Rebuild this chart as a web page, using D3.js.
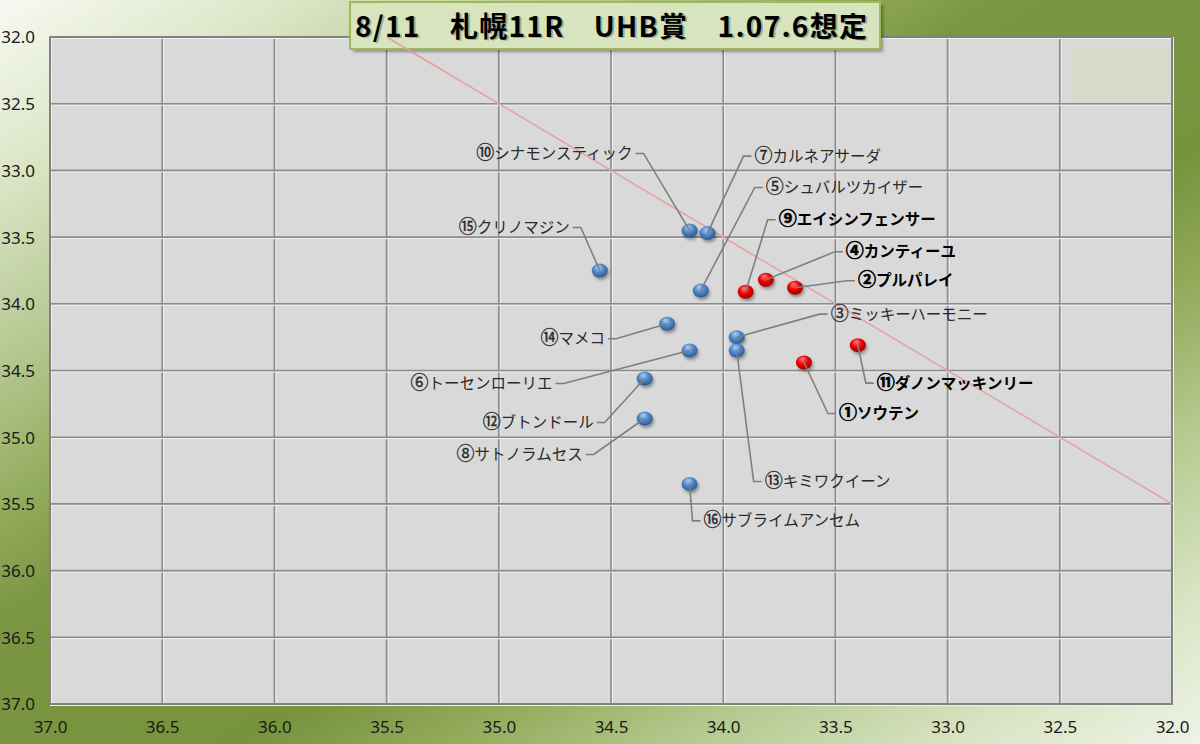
<!DOCTYPE html>
<html lang="ja">
<head>
<meta charset="utf-8">
<title>8/11 札幌11R UHB賞</title>
<style>
  html, body { margin: 0; padding: 0; background: #fff; }
  svg { display: block; }
</style>
</head>
<body>
<script src="https://cdnjs.cloudflare.com/ajax/libs/d3/7.8.5/d3.min.js"></script>
<script>
// data (x = 前半, y = 後半)
var horseNames = ["①ソウテン", "②プルパレイ", "③ミッキーハーモニー", "④カンティーユ",
  "⑤シュバルツカイザー", "⑥トーセンローリエ", "⑦カルネアサーダ", "⑧サトノラムセス",
  "⑨エイシンフェンサー", "⑩シナモンスティック", "⑪ダノンマッキンリー", "⑫ブトンドール",
  "⑬キミワクイーン", "⑭マメコ", "⑮クリノマジン", "⑯サブライムアンセム"];
var xValues = [33.64, 33.68, 33.94, 33.81, 34.10, 34.15, 34.07, 34.35,
  33.90, 34.15, 33.40, 34.35, 33.94, 34.25, 34.55, 34.15];
var yValues = [34.44, 33.88, 34.25, 33.82, 33.90, 34.35, 33.47, 34.86,
  33.91, 33.45, 34.31, 34.56, 34.35, 34.15, 33.75, 35.35];
var redHorses = [1, 2, 4, 9, 11];
var lineX = [35.5, 32.0];
var lineY = [32.0, 35.5];
var xTicks = [37.0, 36.5, 36.0, 35.5, 35.0, 34.5, 34.0, 33.5, 33.0, 32.5, 32.0];
var yTicks = [32.0, 32.5, 33.0, 33.5, 34.0, 34.5, 35.0, 35.5, 36.0, 36.5, 37.0];
var title = "8/11　札幌11R　UHB賞　1.07.6想定";

// label elbow offsets (px from the point) and side
var labelLayout = [[24, 51, "r"], [52, -7, "r"], [83, -23, "r"], [69, -28, "r"],
  [54, -103, "r"], [-126, 33, "l"], [36, -77, "r"], [-51, 36, "l"],
  [22, -72, "r"], [-46, -77, "l"], [8, 38, "r"], [-40, 44, "l"],
  [17, 131, "r"], [-51, 15, "l"], [-19, -43, "l"], [3, 37, "r"]];

var w = 1200, h = 744;
var pLeft = 50, pRight = 1172, pTop = 37, pBottom = 704;

var svg = d3.select("body").append("svg")
  .attr("width", w)
  .attr("height", h);

var defs = svg.append("defs");

var bg = defs.append("linearGradient").attr("id", "bg")
  .attr("x1", 0).attr("y1", 0).attr("x2", 1).attr("y2", 1);
[[0, "#f7f9f2"], [0.12, "#dce6c7"], [0.25, "#b3c68e"], [0.34, "#93ad5e"],
 [0.42, "#7b9642"], [0.6, "#77933c"], [0.7, "#96af61"], [0.78, "#b3c88d"],
 [0.9, "#d9e4c4"], [1, "#eef3e6"]]
  .forEach(function(s) {
    bg.append("stop").attr("offset", s[0]).attr("stop-color", s[1]);
  });

function ball(id, c0, c1, c2) {
  var g = defs.append("radialGradient").attr("id", id)
    .attr("cx", 0.45).attr("cy", 0.4).attr("r", 0.6)
    .attr("fx", 0.4).attr("fy", 0.25);
  g.append("stop").attr("offset", 0).attr("stop-color", c0);
  g.append("stop").attr("offset", 0.55).attr("stop-color", c1);
  g.append("stop").attr("offset", 1).attr("stop-color", c2);
}
ball("blueBall", "#a9cdf5", "#4f86c6", "#2d5a92");
ball("redBall", "#ff8080", "#f00000", "#a00000");

defs.append("filter").attr("id", "blur").attr("x", -0.5).attr("y", -0.5)
  .attr("width", 2).attr("height", 2)
  .append("feGaussianBlur").attr("stdDeviation", 1.5);

svg.append("rect").attr("width", w).attr("height", h).attr("fill", "url(#bg)");

var x = d3.scaleLinear().domain([37, 32]).range([pLeft, pRight]);
var y = d3.scaleLinear().domain([32, 37]).range([pTop, pBottom]);

// plot area
svg.append("rect")
  .attr("x", pLeft).attr("y", pTop)
  .attr("width", pRight - pLeft).attr("height", pBottom - pTop)
  .attr("fill", "#d9d9d9");

svg.append("rect")
  .attr("x", 1071).attr("y", 47)
  .attr("width", 99).attr("height", 53)
  .attr("fill", "#d5dacb");

var grid = svg.append("g");
grid.selectAll(".vhi").data(xTicks).join("line")
  .attr("x1", d => x(d) + 1.5).attr("x2", d => x(d) + 1.5)
  .attr("y1", pTop).attr("y2", pBottom)
  .attr("stroke", "#efefef").attr("stroke-width", 1);
grid.selectAll(".v").data(xTicks).join("line")
  .attr("x1", d => x(d)).attr("x2", d => x(d))
  .attr("y1", pTop).attr("y2", pBottom)
  .attr("stroke", "#8c8c8c").attr("stroke-width", 1.6);
grid.selectAll(".hhi").data(yTicks).join("line")
  .attr("x1", pLeft).attr("x2", pRight)
  .attr("y1", d => y(d) + 1.5).attr("y2", d => y(d) + 1.5)
  .attr("stroke", "#efefef").attr("stroke-width", 1);
grid.selectAll(".h").data(yTicks).join("line")
  .attr("x1", pLeft).attr("x2", pRight)
  .attr("y1", d => y(d)).attr("y2", d => y(d))
  .attr("stroke", "#8c8c8c").attr("stroke-width", 1.6);

svg.append("rect")
  .attr("x", pLeft).attr("y", pTop)
  .attr("width", pRight - pLeft).attr("height", pBottom - pTop)
  .attr("fill", "none").attr("stroke", "#7f7f7f").attr("stroke-width", 1.8);

// axes
var fmt = d3.format(".1f");
var xAxis = svg.append("g")
  .attr("transform", "translate(0," + pBottom + ")")
  .call(d3.axisBottom(x).tickValues(xTicks).tickFormat(fmt).tickSize(0));
xAxis.select(".domain").remove();
xAxis.selectAll("text")
  .attr("y", 23).attr("dy", "0.35em")
  .attr("font-family", "'Noto Sans', 'DejaVu Sans', sans-serif")
  .attr("font-size", 17).attr("fill", "#1a1a1a");

var yAxis = svg.append("g")
  .attr("transform", "translate(" + pLeft + ",0)")
  .call(d3.axisLeft(y).tickValues(yTicks).tickFormat(fmt).tickSize(0));
yAxis.select(".domain").remove();
yAxis.selectAll("text")
  .attr("x", -15).attr("dy", "0.35em")
  .attr("font-family", "'Noto Sans', 'DejaVu Sans', sans-serif")
  .attr("font-size", 17).attr("fill", "#1a1a1a");

var horses = horseNames.map(function(n, i) {
  return {
    name: n,
    x: xValues[i],
    y: yValues[i],
    red: redHorses.indexOf(i + 1) >= 0,
    lay: labelLayout[i]
  };
});

// trend line (behind the markers)
var trendBack = svg.append("line")
  .attr("x1", x(lineX[0])).attr("y1", y(lineY[0]))
  .attr("x2", x(lineX[1])).attr("y2", y(lineY[1]))
  .attr("stroke", "#e6a2a2").attr("stroke-width", 1.6);

// markers
var marks = svg.append("g");
marks.selectAll(".shadow").data(horses).join("ellipse")
  .attr("cx", d => x(d.x) + 1.5).attr("cy", d => y(d.y) + 2.5)
  .attr("rx", 8).attr("ry", 7)
  .attr("fill", "rgba(0,0,0,0.35)")
  .attr("filter", "url(#blur)");
marks.selectAll(".ball").data(horses).join("ellipse")
  .attr("cx", d => x(d.x)).attr("cy", d => y(d.y))
  .attr("rx", 8).attr("ry", 7)
  .attr("fill", d => d.red ? "url(#redBall)" : "url(#blueBall)");

// leader lines + labels
var labels = svg.append("g");
labels.selectAll("path").data(horses).join("path")
  .attr("d", function(d) {
    var px = x(d.x), py = y(d.y);
    var ex = px + d.lay[0], ey = py + d.lay[1];
    var hx = d.lay[2] === "r" ? ex + 8 : ex - 8;
    return "M" + px + "," + py + "L" + ex + "," + ey + "L" + hx + "," + ey;
  })
  .attr("fill", "none")
  .attr("stroke", "#7f7f7f").attr("stroke-width", 1.6);

var lt = labels.selectAll("text").data(horses).join("text")
  .attr("x", d => d.lay[2] === "r" ? x(d.x) + d.lay[0] + 11 : x(d.x) + d.lay[0] - 11)
  .attr("y", d => y(d.y) + d.lay[1])
  .attr("dy", "0.36em")
  .attr("text-anchor", d => d.lay[2] === "r" ? "start" : "end")
  .attr("font-family", "'Noto Sans CJK JP', sans-serif")
  .attr("font-size", 15.5)
  .attr("font-weight", d => d.red ? 700 : 400)
  .attr("fill", d => d.red ? "#000" : "#2a2a2a");
// circled number drawn larger, like the original font
lt.append("tspan")
  .attr("font-size", 18)
  .attr("stroke", d => d.red ? "#000" : "#2a2a2a")
  .attr("stroke-width", d => d.red ? 0.6 : 0.35)
  .text(d => d.name.slice(0, 1));
lt.append("tspan")
  .text(d => d.name.slice(1));

// title box
var tg = svg.append("g");
tg.append("rect")
  .attr("x", 353).attr("y", 5).attr("width", 530).attr("height", 47)
  .attr("fill", "rgba(0,0,0,0.35)").attr("filter", "url(#blur)");
tg.append("rect")
  .attr("x", 350).attr("y", 2).attr("width", 530).attr("height", 47)
  .attr("fill", "#d7e4bd").attr("stroke", "#9bbb59").attr("stroke-width", 2);
tg.append("text")
  .attr("x", 357).attr("y", 28).attr("dy", "0.36em")
  .attr("fill", "rgba(0,0,0,0.25)")
  .attr("font-family", "'Noto Sans CJK JP', sans-serif")
  .attr("font-size", 28).attr("font-weight", 700)
  .attr("textLength", 512).attr("lengthAdjust", "spacing")
  .text(title);
tg.append("text")
  .attr("x", 355).attr("y", 27).attr("dy", "0.36em")
  .attr("fill", "#000")
  .attr("font-family", "'Noto Sans CJK JP', sans-serif")
  .attr("font-size", 28).attr("font-weight", 700)
  .attr("textLength", 512).attr("lengthAdjust", "spacing")
  .text(title);

// the original shows the trend line running over the title box
svg.append("line")
  .attr("x1", x(lineX[0])).attr("y1", y(lineY[0]))
  .attr("x2", x(35.25)).attr("y2", y(67.5 - 35.25))
  .attr("stroke", "#e6a2a2").attr("stroke-width", 1.6);
</script>
</body>
</html>
